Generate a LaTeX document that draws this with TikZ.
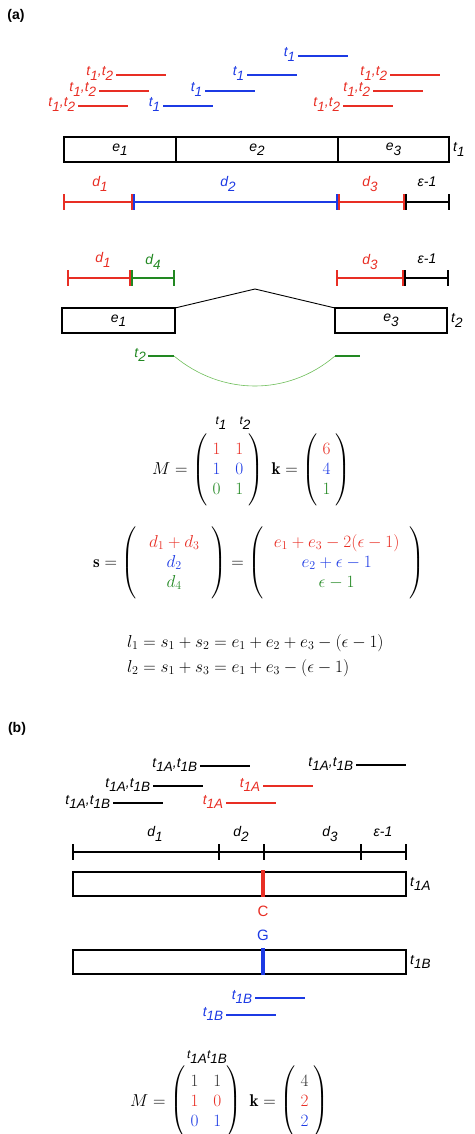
\documentclass[tikz,border=0pt]{standalone}
\usepackage{amsmath}
\usepackage{fontspec}
\setsansfont{Liberation Sans}
\definecolor{rd}{RGB}{232,46,36}
\definecolor{bl}{RGB}{28,58,228}
\definecolor{gr}{RGB}{34,136,34}
\definecolor{lgr}{RGB}{110,190,90}
\setlength{\arraycolsep}{7.5pt}
\newcommand{\lsub}[1]{\raisebox{-4.5pt}{\fontsize{13.5}{16}\selectfont #1}}
\newcommand{\tsub}[1]{t\lsub{#1}}
\newcommand{\pmat}[2]{\left(\vcenter{\hbox{\rule{0pt}{69pt}}}\hspace{#1}\begin{matrix}#2\end{matrix}\hspace{#1}\right)}

\begin{document}
\begin{tikzpicture}[
x=1pt,y=-1pt,
lbl/.style={
  font=\sffamily\itshape\fontsize{14}{16}\selectfont,
  inner sep=1pt
  },
hdr/.style={
  font=\sffamily\itshape\fontsize{12}{14}\selectfont,
  inner sep=1pt
  },
panel/.style={
  font=\sffamily\bfseries\fontsize{14}{16}\selectfont
  },
exon/.style={
  draw,
  rectangle,
  line width=1.3pt,
  minimum height=25pt,
  inner sep=0pt,
  outer sep=0pt,
  anchor=north west,
  font=\sffamily\itshape\fontsize{14}{16}\selectfont
  },
read/.style={line width=1.7pt},
rlbl/.style={lbl,pos=0,anchor=base east,yshift=-1pt,xshift=-1pt},
segbar/.style={line width=1.4pt},
intron/.style={line width=0.9pt},
splice/.style={line width=0.6pt, lgr},
snp/.style={line width=3.2pt},
eq/.style={
  font=\fontsize{17}{20}\selectfont,
  inner sep=0pt
  }
]
\useasboundingbox (0,0) rectangle (474,1134);

% ---------- (a) ----------
\node[panel] (pa) at (16,16) {(a)};

% reads on t1
\foreach \x/\y in {298/56,247/75,205/91,163/106}
  \draw[read,bl] (\x,\y) -- ++(50,0) node[rlbl,bl] (rb\x) {\tsub{1}};
\foreach \x/\y in {116/75,99/91,78/106,390/75,373/91,343/106}
  \draw[read,rd] (\x,\y) -- ++(50,0) node[rlbl,rd] (rr\x) {\tsub{1},\tsub{2}};

% transcript t1
\node[exon,minimum width=112pt] (a1) at (64,137) {e\lsub{1}};
\node[exon,minimum width=162pt] (a2) at (a1.north east) {e\lsub{2}};
\node[exon,minimum width=111pt] (a3) at (a2.north east) {e\lsub{3}};
\node[lbl,anchor=west] (ta) at ([xshift=3pt]a3.east) {\tsub{1}};

% segments of t1
\coordinate (b0) at (64,202);
\coordinate (b1) at (133,202);
\coordinate (b2) at (338,202);
\coordinate (b3) at (405,202);
\coordinate (b4) at (449,202);
\draw[segbar,rd] (b0) -- (b1);
\draw[segbar,bl] (b1) -- (b2);
\draw[segbar,rd] (b2) -- (b3);
\draw[segbar] (b3) -- (b4);
\foreach \c/\col/\dx in {b0/rd/0,b1/rd/-1,b1/bl/1,b2/bl/-1,b2/rd/1,b3/rd/-1,b3/black/1,b4/black/0}
  \draw[segbar,\col] ([xshift=\dx pt,yshift=8pt]\c) -- ([xshift=\dx pt,yshift=-8pt]\c);
\node[lbl,rd] (da1) at (100,184) {d\lsub{1}};
\node[lbl,bl] (da2) at (228,184) {d\lsub{2}};
\node[lbl,rd] (da3) at (370,184) {d\lsub{3}};
\node[lbl] (dae) at (427,182) {ε-1};

% segments of t2
\coordinate (c0) at (68,278);
\coordinate (c1) at (131,278);
\coordinate (c2) at (174,278);
\coordinate (c3) at (337,278);
\coordinate (c4) at (404,278);
\coordinate (c5) at (448,278);
\draw[segbar,rd] (c0) -- (c1);
\draw[segbar,gr] (c1) -- (c2);
\draw[segbar,rd] (c3) -- (c4);
\draw[segbar] (c4) -- (c5);
\foreach \c/\col/\dx in {c0/rd/0,c1/rd/-1,c1/gr/1,c2/gr/0,c3/rd/0,c4/rd/-1,c4/black/1,c5/black/0}
  \draw[segbar,\col] ([xshift=\dx pt,yshift=8pt]\c) -- ([xshift=\dx pt,yshift=-8pt]\c);
\node[lbl,rd] (db1) at (103,260) {d\lsub{1}};
\node[lbl,gr] (db4) at (153,262) {d\lsub{4}};
\node[lbl,rd] (db3) at (370,262) {d\lsub{3}};
\node[lbl] (dbe) at (427,259) {ε-1};

% transcript t2
\node[exon,minimum width=113pt] (f1) at (62,308) {e\lsub{1}};
\node[exon,minimum width=112pt] (f3) at (335,308) {e\lsub{3}};
\node[lbl,anchor=west] (tb) at ([xshift=3pt]f3.east) {\tsub{2}};
\coordinate (pk) at (255,289);
\draw[intron] (f1.north east) -- (pk) -- (f3.north west);

% spliced read on t2
\coordinate (g0) at (148,356);
\coordinate (g1) at (174,356);
\coordinate (g2) at (335,356);
\coordinate (g3) at (360,356);
\draw[read,gr] (g0) -- (g1);
\draw[read,gr] (g2) -- (g3);
\draw[splice] (g1) .. controls (222,396) and (288,396) .. (g2);
\node[lbl,gr,anchor=base east,xshift=-1pt,yshift=-1pt] (tg) at (g0) {\tsub{2}};

% equations
\node[hdr] (h1) at (221,423) {\tsub{1}};
\node[hdr] (h2) at (245,423) {\tsub{2}};
\node[eq,anchor=west] (mka) at (152,470) {$M = \pmat{5pt}{\color{rd}1 & \color{rd}1\\ \color{bl}1 & \color{bl}0\\ \color{gr}0 & \color{gr}1}\ \mathbf{k} = \pmat{5pt}{\color{rd}6\\ \color{bl}4\\ \color{gr}1}$};
\node[eq,anchor=west] (sv) at (93,563) {$\mathbf{s} = \pmat{12pt}{\color{rd}d_1+d_3\\ \color{bl}d_2\\ \color{gr}d_4} = \pmat{10pt}{\color{rd}e_1+e_3-2(\epsilon-1)\\ \color{bl}e_2+\epsilon-1\\ \color{gr}\epsilon-1}$};
\node[eq,anchor=west] (l1) at (127,643) {$l_1 = s_1+s_2 = e_1+e_2+e_3-(\epsilon-1)$};
\node[eq,anchor=west] (l2) at (127,668) {$l_2 = s_1+s_3 = e_1+e_3-(\epsilon-1)$};

% ---------- (b) ----------
\node[panel] (pb) at (17,729) {(b)};

% reads
\foreach \x/\y in {200/766,356/765,153/786,113/803}
  \draw[read] (\x,\y) -- ++(50,0) node[rlbl] (rk\x) {\tsub{1A},\tsub{1B}};
\foreach \x/\y in {263/786,226/803}
  \draw[read,rd] (\x,\y) -- ++(50,0) node[rlbl,rd] (ra\x) {\tsub{1A}};

% segments
\coordinate (s0) at (73,852);
\coordinate (s1) at (219,852);
\coordinate (s2) at (264,852);
\coordinate (s3) at (361,852);
\coordinate (s4) at (406,852);
\draw[segbar] (s0) -- (s4);
\foreach \c in {s0,s1,s2,s3,s4}
  \draw[segbar] ([yshift=8pt]\c) -- ([yshift=-8pt]\c);
\node[lbl] (dc1) at (155,834) {d\lsub{1}};
\node[lbl] (dc2) at (241,834) {d\lsub{2}};
\node[lbl] (dc3) at (330,834) {d\lsub{3}};
\node[lbl] (dce) at (383,832) {ε-1};

% alleles
\coordinate (sx) at (263,0);
\node[exon,minimum width=333pt,minimum height=24pt] (ua) at (73,872) {};
\node[lbl,anchor=west] (tua) at ([xshift=3pt]ua.east) {\tsub{1A}};
\draw[snp,rd,shorten <=-2pt,shorten >=-1pt] (ua.north -| sx) -- (ua.south -| sx);
\node[font=\sffamily\fontsize{15}{17}\selectfont,rd] (cc) at (263,911) {C};
\node[font=\sffamily\fontsize{15}{17}\selectfont,bl] (gg) at (263,935) {G};
\node[exon,minimum width=333pt,minimum height=24pt] (ub) at (73,950) {};
\node[lbl,anchor=west] (tub) at ([xshift=3pt]ub.east) {\tsub{1B}};
\draw[snp,bl,shorten <=-2pt,shorten >=-1pt] (ub.north -| sx) -- (ub.south -| sx);

\foreach \x/\y in {255/998,226/1015}
  \draw[read,bl] (\x,\y) -- ++(50,0) node[rlbl,bl] (rg\x) {\tsub{1B}};

% equations
\node[hdr] (h3) at (207,1057) {\tsub{1A}\tsub{1B}};
\node[eq,anchor=west] (mkb) at (130,1102) {$M = \pmat{5pt}{\color{black!80}1 & \color{black!80}1\\ \color{rd}1 & \color{rd}0\\ \color{bl}0 & \color{bl}1}\ \mathbf{k} = \pmat{5pt}{\color{black!80}4\\ \color{rd}2\\ \color{bl}2}$};

\end{tikzpicture}
\end{document}
